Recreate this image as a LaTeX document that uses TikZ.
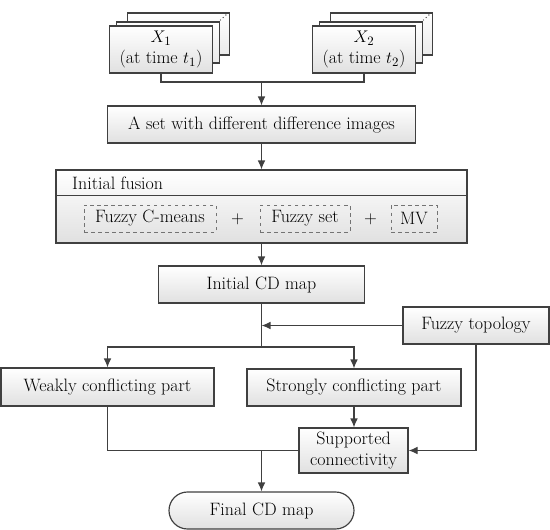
\documentclass[tikz,border=0pt]{standalone}
\usepackage{tikz}
\usetikzlibrary{
    arrows.meta,
    calc,
    positioning,
    shapes.misc
}
\definecolor{linecol}{HTML}{404040}
\tikzset{
    proc/.style={draw=linecol, line width=1pt, top color=white, bottom color=black!12,
        inner sep=0pt, align=center, font=\fontsize{15.3}{18}\selectfont},
    stackframe/.style={draw=linecol, line width=1pt, top color=white, bottom color=black!8},
    dashbox/.style={draw=black!55, dashed, line width=0.8pt, inner sep=0pt,
        font=\fontsize{15.3}{18}\selectfont},
    plain/.style={inner sep=0pt, font=\fontsize{15.3}{18}\selectfont},
    conn/.style={draw=linecol, line width=1pt},
    flow/.style={conn, -{Latex[length=2.7mm,width=2.3mm]}}
}

\begin{document}
\begin{tikzpicture}[x=3mm, y=-3mm]
    \useasboundingbox (0, 0) rectangle (55, 53);

    % the two image stacks
    \foreach \x/\i in {16.1/1, 36.4/2} {
        \begin{scope}[shift={(\x, 4.95)}]
            \draw[stackframe] (-3.35, -3.65) rectangle (6.85, 0.55);
            \draw[stackframe] (-4.45, -2.75) rectangle (5.85, 1.35);
            \foreach \d in {0, 1, 2} {
                \fill[linecol] (5.95 + 0.27*\d, -2.95 - 0.25*\d) circle (0.6pt);
            }
        \end{scope}
        \node[proc, minimum width=3.09cm, minimum height=1.41cm] (f\i) at (\x, 4.95)
            {$X_{\i}$\\(at time $t_{\i}$)};
    }

    \node[proc, minimum width=9.24cm, minimum height=1.11cm] (set) at (26.15, 12.45)
        {A set with different difference images};

    % initial fusion block
    \node[proc, minimum width=12.33cm, minimum height=2.19cm] (fusion) at (26.15, 20.65) {};
    \draw[conn] ($(fusion.north west) + (0, 2.6)$) -- ($(fusion.north east) + (0, 2.6)$);
    \node[plain, anchor=west] (fustitle) at (7.2, 18.3) {Initial fusion};
    \node[dashbox, minimum width=3.96cm, minimum height=0.81cm] (fcm) at (15.0, 21.85) {Fuzzy C-means};
    \node[plain] (plus1) at (23.75, 21.95) {$+$};
    \node[dashbox, minimum width=2.7cm, minimum height=0.81cm] (fset) at (30.5, 21.85) {Fuzzy set};
    \node[plain] (plus2) at (37.05, 21.95) {$+$};
    \node[dashbox, minimum width=1.38cm, minimum height=0.81cm] (mv) at (41.4, 21.85) {MV};

    \node[proc, minimum width=6.18cm, minimum height=1.11cm] (cdmap) at (26.15, 28.45) {Initial CD map};
    \node[proc, minimum width=4.38cm, minimum height=1.11cm] (topo) at (47.6, 32.55) {Fuzzy topology};
    \node[proc, minimum width=6.39cm, minimum height=1.14cm] (weak) at (10.75, 38.7) {Weakly conflicting part};
    \node[proc, minimum width=6.42cm, minimum height=1.11cm] (strong) at (35.4, 38.75) {Strongly conflicting part};
    \node[proc, minimum width=3.27cm, minimum height=1.35cm] (supp) at (35.35, 45.05) {Supported\\connectivity};
    \node[proc, rounded rectangle, minimum width=5.55cm, minimum height=1.11cm] (final) at (26.15, 51.05) {Final CD map};

    \coordinate (join) at (26.15, 8.2);
    \coordinate (branch) at (26.15, 34.7);

    % connectors
    \draw[conn] (f1.south) |- (join);
    \draw[conn] (f2.south) |- (join);
    \draw[flow] (join) -- (set.north);
    \draw[flow] (set.south) -- (fusion.north);
    \draw[flow] (fusion.south) -- (cdmap.north);
    \draw[conn] (cdmap.south) -- (branch);
    \draw[flow] (topo.west) -- (topo.west -| cdmap.south);
    \draw[flow] (branch) -| (weak.north);
    \draw[flow] (branch) -| (strong.north);
    \draw[flow] (strong.south) -- (strong.south |- supp.north);
    \draw[flow] (topo.south) |- (supp.east);
    \draw[conn] (weak.south) |- (supp.west);
    \draw[flow] (final.north |- supp.west) -- (final.north);
\end{tikzpicture}
\end{document}
